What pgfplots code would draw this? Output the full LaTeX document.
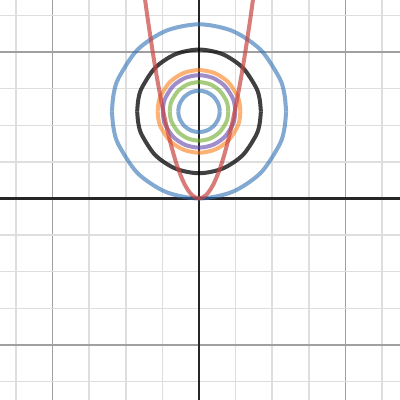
\documentclass[border=0pt]{standalone}
\usepackage{pgfplots}
\pgfplotsset{compat=1.18}

\definecolor{dblue}{RGB}{45,112,179}
\definecolor{dred}{RGB}{199,68,64}
\definecolor{dorange}{RGB}{250,126,25}
\definecolor{dpurple}{RGB}{96,66,166}
\definecolor{dgreen}{RGB}{110,170,42}
\definecolor{majgrid}{RGB}{160,160,160}
\definecolor{mingrid}{RGB}{222,222,222}

\begin{document}
\begin{tikzpicture}
    \begin{axis}[
        scale only axis,
        width=300pt,
        height=300pt,
        xmin=-2.719, xmax=2.746,
        ymin=-2.753, ymax=2.712,
        axis line style={draw=none},
        xtick={-2,0,2},
        ytick={-2,0,2},
        minor xtick={-2.5,-1.5,-1,-0.5,0.5,1,1.5,2.5},
        minor ytick={-2.5,-1.5,-1,-0.5,0.5,1,1.5,2.5},
        xticklabels={}, yticklabels={},
        major tick length=0pt,
        minor tick length=0pt,
        grid=both,
        major grid style={majgrid, line width=1.3pt},
        minor grid style={mingrid, line width=1.1pt},
        extra x ticks={0},
        extra y ticks={0},
        extra x tick labels={},
        extra y tick labels={},
        extra tick style={grid=major, major grid style={black!85, line width=1.8pt}},
        every axis plot/.append style={line width=3pt, smooth, mark=none},
        clip=true,
    ]
        % big blue circle
        \addplot[dblue, draw opacity=0.6] coordinates {
            (1.19,1.19) (1.1672,1.4222) (1.0994,1.6454) (0.8414,2.0314) (0.4554,2.2894) (0,2.38)
            (-0.4554,2.2894) (-0.8414,2.0314) (-1.0994,1.6454) (-1.1672,1.4222) (-1.19,1.19)};
        \addplot[dblue, draw opacity=0.6] coordinates {
            (-1.19,1.19) (-1.1672,0.9578) (-1.0994,0.7346) (-0.8414,0.3486) (-0.4554,0.0906) (0,0)
            (0.4554,0.0906) (0.8414,0.3486) (1.0994,0.7346) (1.1672,0.9578) (1.19,1.19)};
        % black circle
        \addplot[black, draw opacity=0.75] coordinates {
            (0.845,1.19) (0.8288,1.3549) (0.7807,1.5134) (0.5975,1.7875) (0.3234,1.9707) (0,2.035)
            (-0.3234,1.9707) (-0.5975,1.7875) (-0.7807,1.5134) (-0.8288,1.3549) (-0.845,1.19)};
        \addplot[black, draw opacity=0.75] coordinates {
            (-0.845,1.19) (-0.8288,1.0251) (-0.7807,0.8666) (-0.5975,0.5925) (-0.3234,0.4093) (0,0.345)
            (0.3234,0.4093) (0.5975,0.5925) (0.7807,0.8666) (0.8288,1.0251) (0.845,1.19)};
        % orange circle
        \addplot[dorange, draw opacity=0.6] coordinates {
            (0.565,1.19) (0.5542,1.3002) (0.5220,1.4062) (0.3995,1.5895) (0.2162,1.7120) (0,1.755)
            (-0.2162,1.7120) (-0.3995,1.5895) (-0.5220,1.4062) (-0.5542,1.3002) (-0.565,1.19)};
        \addplot[dorange, draw opacity=0.6] coordinates {
            (-0.565,1.19) (-0.5542,1.0798) (-0.5220,0.9738) (-0.3995,0.7905) (-0.2162,0.6680) (0,0.625)
            (0.2162,0.6680) (0.3995,0.7905) (0.5220,0.9738) (0.5542,1.0798) (0.565,1.19)};
        % purple circle
        \addplot[dpurple, draw opacity=0.6] coordinates {
            (0.495,1.19) (0.4855,1.2866) (0.4573,1.3794) (0.35,1.54) (0.1894,1.6473) (0,1.685)
            (-0.1894,1.6473) (-0.35,1.54) (-0.4573,1.3794) (-0.4855,1.2866) (-0.495,1.19)};
        \addplot[dpurple, draw opacity=0.6] coordinates {
            (-0.495,1.19) (-0.4855,1.0934) (-0.4573,1.0006) (-0.35,0.84) (-0.1894,0.7327) (0,0.695)
            (0.1894,0.7327) (0.35,0.84) (0.4573,1.0006) (0.4855,1.0934) (0.495,1.19)};
        % green circle
        \addplot[dgreen, draw opacity=0.6] coordinates {
            (0.4,1.19) (0.3923,1.268) (0.3696,1.3431) (0.2828,1.4728) (0.1531,1.5596) (0,1.59)
            (-0.1531,1.5596) (-0.2828,1.4728) (-0.3696,1.3431) (-0.3923,1.268) (-0.4,1.19)};
        \addplot[dgreen, draw opacity=0.6] coordinates {
            (-0.4,1.19) (-0.3923,1.112) (-0.3696,1.0369) (-0.2828,0.9072) (-0.1531,0.8204) (0,0.79)
            (0.1531,0.8204) (0.2828,0.9072) (0.3696,1.0369) (0.3923,1.112) (0.4,1.19)};
        % small blue circle
        \addplot[dblue, draw opacity=0.6] coordinates {
            (0.283,1.19) (0.2776,1.2452) (0.2615,1.2983) (0.2001,1.3901) (0.1083,1.4515) (0,1.473)
            (-0.1083,1.4515) (-0.2001,1.3901) (-0.2615,1.2983) (-0.2776,1.2452) (-0.283,1.19)};
        \addplot[dblue, draw opacity=0.6] coordinates {
            (-0.283,1.19) (-0.2776,1.1348) (-0.2615,1.0817) (-0.2001,0.9901) (-0.1083,0.9285) (0,0.907)
            (0.1083,0.9285) (0.2001,0.9901) (0.2615,1.0817) (0.2776,1.1348) (0.283,1.19)};
        % red parabola
        \addplot[dred, draw opacity=0.7] coordinates {
            (-0.76,2.888) (-0.7,2.45) (-0.6,1.8) (-0.5,1.25) (-0.4,0.8) (-0.3,0.45)
            (-0.2,0.2) (-0.1,0.05) (0,0) (0.1,0.05) (0.2,0.2) (0.3,0.45)
            (0.4,0.8) (0.5,1.25) (0.6,1.8) (0.7,2.45) (0.76,2.888)};
    \end{axis}
    \pgfresetboundingbox
    \path (current axis.south west) rectangle (current axis.north east);
\end{tikzpicture}
\end{document}
